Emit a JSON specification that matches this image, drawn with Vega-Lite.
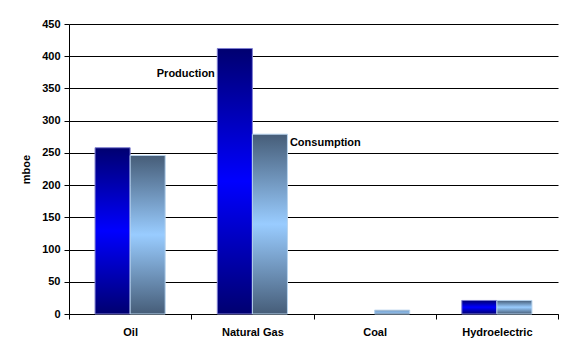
{
  "$schema": "https://vega.github.io/schema/vega-lite/v6.json",
  "autosize": "none",
  "width": 489,
  "height": 290,
  "padding": {"left": 69, "top": 24, "right": 15, "bottom": 43},
  "background": "white",
  "config": {"view": {"stroke": null}, "font": "Liberation Sans"},
  "datasets": {
    "bars": [
      {"source": "Oil", "series": "Production", "mboe": 258},
      {"source": "Oil", "series": "Consumption", "mboe": 246},
      {"source": "Natural Gas", "series": "Production", "mboe": 412},
      {"source": "Natural Gas", "series": "Consumption", "mboe": 279},
      {"source": "Coal", "series": "Production", "mboe": 0},
      {"source": "Coal", "series": "Consumption", "mboe": 6},
      {"source": "Hydroelectric", "series": "Production", "mboe": 21},
      {"source": "Hydroelectric", "series": "Consumption", "mboe": 21}
    ],
    "labels": [
      {"source": "Natural Gas", "series": "Production", "mboe": 372, "label": "Production"},
      {"source": "Natural Gas", "series": "Consumption", "mboe": 265, "label": "Consumption"}
    ]
  },
  "encoding": {
    "x": {
      "field": "source", "type": "nominal",
      "sort": ["Oil", "Natural Gas", "Coal", "Hydroelectric"],
      "scale": {"paddingInner": 0, "paddingOuter": 0},
      "axis": {
        "title": null, "labelAngle": 0, "tickBand": "extent",
        "domainColor": "black", "tickColor": "black", "tickSize": 5,
        "labelFont": "Liberation Sans", "labelFontWeight": "bold", "labelFontSize": 11,
        "labelColor": "black", "labelPadding": 7, "grid": false
      }
    },
    "xOffset": {
      "field": "series", "type": "nominal",
      "sort": ["Production", "Consumption"],
      "scale": {"paddingInner": 0, "paddingOuter": 0.743}
    },
    "y": {
      "field": "mboe", "type": "quantitative",
      "scale": {"domain": [0, 450], "nice": false},
      "axis": {
        "title": "mboe", "values": [0, 50, 100, 150, 200, 250, 300, 350, 400, 450],
        "labelOverlap": false, "labelFlush": false,
        "grid": true, "gridColor": "black", "gridOpacity": 1, "gridWidth": 1,
        "domainColor": "black", "tickColor": "black", "tickSize": 5,
        "labelFont": "Liberation Sans", "labelFontWeight": "bold", "labelFontSize": 11,
        "labelColor": "black", "labelPadding": 4,
        "titleFont": "Liberation Sans", "titleFontWeight": "bold", "titleFontSize": 11,
        "titleColor": "black", "titlePadding": 10
      }
    }
  },
  "layer": [
    {
      "data": {"name": "bars"},
      "mark": {"type": "bar", "strokeWidth": 1},
      "encoding": {
        "fill": {
          "condition": {
            "test": "datum.series === 'Production'",
            "value": {
              "gradient": "linear", "x1": 0, "y1": 0, "x2": 0, "y2": 1,
              "stops": [
                {"offset": 0, "color": "#000070"},
                {"offset": 0.5, "color": "#0000ff"},
                {"offset": 1, "color": "#000070"}
              ]
            }
          },
          "value": {
            "gradient": "linear", "x1": 0, "y1": 0, "x2": 0, "y2": 1,
            "stops": [
              {"offset": 0, "color": "#465d78"},
              {"offset": 0.5, "color": "#99ccff"},
              {"offset": 1, "color": "#465d78"}
            ]
          }
        },
        "stroke": {
          "condition": {"test": "datum.series === 'Production'", "value": "#7f7fd0"},
          "value": "#b8d4ee"
        },
        "strokeOpacity": {
          "condition": {"test": "datum.mboe === 0", "value": 0},
          "value": 1
        }
      }
    },
    {
      "data": {"name": "labels"},
      "transform": [{"filter": "datum.series === 'Production'"}],
      "mark": {"type": "text", "font": "Liberation Sans", "fontWeight": "bold", "fontSize": 11, "color": "black", "baseline": "middle", "align": "right", "dx": -20},
      "encoding": {
        "text": {"field": "label"}
      }
    },
    {
      "data": {"name": "labels"},
      "transform": [{"filter": "datum.series === 'Consumption'"}],
      "mark": {"type": "text", "font": "Liberation Sans", "fontWeight": "bold", "fontSize": 11, "color": "black", "baseline": "middle", "align": "left", "dx": 20},
      "encoding": {
        "text": {"field": "label"}
      }
    }
  ]
}
